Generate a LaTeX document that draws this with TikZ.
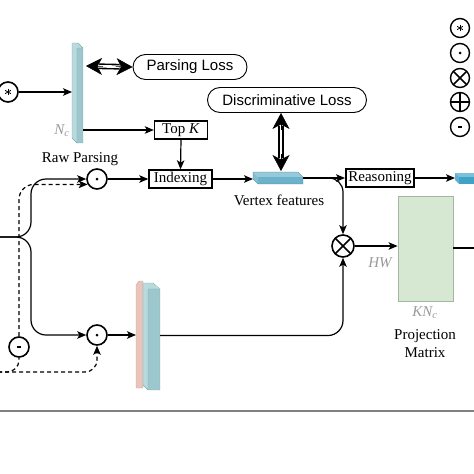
\documentclass[tikz,border=0pt]{standalone}
\usepackage{fontspec}
\setmainfont{Liberation Serif}
\newfontfamily\lsans{Liberation Sans}
\usetikzlibrary{arrows.meta,calc}
\newcommand\fsz{\fontsize{15}{18}\selectfont}
\newcommand\dblarr[2]{%
  \draw[line width=1.6pt, double distance=2.6pt] ($(#1)!13pt!(#2)$) -- ($(#2)!13pt!(#1)$);
  \draw[dhead] ($(#1)!17pt!(#2)$) -- (#1);
  \draw[dhead] ($(#2)!17pt!(#1)$) -- (#2);}
\definecolor{tealF}{HTML}{9CC8CD}
\definecolor{tealS}{HTML}{B8DADD}
\definecolor{tealE}{HTML}{7FAAB0}
\definecolor{vbF}{HTML}{6CB2CA}
\definecolor{vbT}{HTML}{96CADB}
\definecolor{rbF}{HTML}{3FA3C8}
\definecolor{rbT}{HTML}{7CC0DA}
\definecolor{pinkF}{HTML}{E8C4BB}
\definecolor{pinkE}{HTML}{CFA89E}
\definecolor{greenF}{HTML}{D7E8D2}
\definecolor{greenE}{HTML}{A3B8A0}
\definecolor{dimgray}{HTML}{9A9A9A}
\begin{document}
\begin{tikzpicture}[x=1pt,y=-1pt,
 conn/.style={line width=1.2pt, -{Stealth[length=9pt,width=7.5pt,inset=2.2pt]}},
 dconn/.style={conn, dash pattern=on 4pt off 3pt},
 dline/.style={line width=1.2pt, dash pattern=on 4pt off 3pt},
 dhead/.style={line width=0.6pt, -{Stealth[length=16pt,width=17pt,inset=4.5pt]}},
 op/.style={circle, draw, line width=1.6pt, minimum size=20pt, inner sep=0pt, fill=white},
 lg/.style={line width=1.4pt, minimum size=19pt},
 odot/.style={op, path picture={\fill[black] (path picture bounding box.center) circle (1.5pt);}},
 ostar/.style={op, path picture={\foreach \a in {90,30,-30}{\draw[black, line width=0.8pt] (path picture bounding box.center) +(\a:3.3pt) -- +(\a+180:3.3pt);}}},
 otimes/.style={op, path picture={\draw[black, line width=1.5pt] (path picture bounding box.center) +(-12pt,-12pt) -- +(12pt,12pt) +(-12pt,12pt) -- +(12pt,-12pt);}},
 oplus/.style={op, path picture={\draw[black, line width=1.5pt] (path picture bounding box.center) +(-12pt,0) -- +(12pt,0) +(0,-12pt) -- +(0,12pt);}},
 ominus/.style={op, path picture={\draw[black, line width=1.2pt] (path picture bounding box.center) +(-2.3pt,0) -- +(2.3pt,0);}},
 txtbox/.style={draw, line width=1.4pt, inner sep=0pt, minimum height=18pt, font=\fsz},
 loss/.style={draw, rounded corners=12.5pt, line width=0.9pt, minimum height=25pt, inner sep=0pt, font=\lsans\fsz},
 lbl/.style={font=\fsz, inner sep=0pt},
 dim/.style={text=dimgray, font=\fsz\itshape, inner sep=0pt},
 ghost/.style={inner sep=0pt, outer sep=0pt}
]
\useasboundingbox (0,0) rectangle (474,474);

% ---------- bars (shapes) ----------
% raw parsing bar
\fill[tealS] (72,43) -- (78,43) -- (83,48) -- (77,48) -- cycle;
\fill[tealS] (72,43) -- (77,48) -- (77,143) -- (72,138) -- cycle;
\fill[tealF] (77,48) rectangle (83,143);
\draw[tealE, line width=0.4pt] (72,43) -- (78,43) -- (83,48) -- (83,143) -- (77,143) -- (72,138) -- cycle (77,48) -- (83,48) (77,48) -- (77,143);
\node[ghost, minimum width=11pt, minimum height=100pt] (rawbar) at (77.5,93) {};

% vertex feature bar
\fill[vbT] (253,172) -- (298,172) -- (303,177) -- (258,177) -- cycle;
\fill[vbF!85!white] (253,172) -- (258,177) -- (258,184) -- (253,179) -- cycle;
\fill[vbF] (258,177) rectangle (303,184);
\draw[vbF!70!black, line width=0.3pt] (253,172) -- (298,172) -- (303,177) -- (303,184) -- (258,184) -- (253,179) -- cycle;
\node[ghost, minimum width=50pt, minimum height=12pt] (vbar) at (278,178) {};

% right bar
\fill[rbT] (455,173) -- (476,173) -- (476,177) -- (459,177) -- cycle;
\fill[rbF!85!white] (455,173) -- (459,177) -- (459,184) -- (455,180) -- cycle;
\fill[rbF] (459,177) rectangle (476,184);
\node[ghost, minimum width=21pt, minimum height=11pt, anchor=west] (rbar) at (455,178) {};

% pink / teal slab
\fill[pinkF] (136,285) -- (139,281) -- (143,281) -- (143,388) -- (136,388) -- cycle;
\draw[pinkE, line width=0.4pt] (136,285) -- (139,281) -- (143,281) -- (143,388) -- (136,388) -- cycle;
\fill[tealS] (143,283) -- (153,283) -- (159,289) -- (148,289) -- cycle;
\fill[tealS] (143,283) -- (148,289) -- (148,390) -- (143,385) -- cycle;
\fill[tealF] (148,289) rectangle (160,390);
\draw[tealE, line width=0.4pt] (143,283) -- (153,283) -- (160,289) -- (160,390) -- (148,390) -- (143,385) -- cycle (148,289) -- (160,289) (148,289) -- (148,390);
\node[ghost, minimum width=24pt, minimum height=109pt] (slab) at (148,335.5) {};

% projection matrix
\node[draw=greenE, fill=greenF, line width=0.8pt, minimum width=55pt, minimum height=105pt, inner sep=0pt] (proj) at (425.5,248.5) {};

% ---------- operators ----------
\node[ostar] (starL) at (8,92) {};
\node[odot] (dotU) at (97,179) {};
\node[odot] (dotL) at (97,335) {};
\node[ominus] (minusL) at (19,347) {};
\node[otimes, minimum size=22pt] (tim) at (343,246) {};

% legend
\node[ostar, lg] (lg1) at (460,28) {};
\node[odot, lg] (lg2) at (460,53) {};
\node[otimes, lg] (lg3) at (460,78) {};
\node[oplus, lg] (lg4) at (460,102) {};
\node[ominus, lg] (lg5) at (460,127) {};

% ---------- boxes ----------
\node[loss, minimum width=114pt] (ploss) at (190,67) {Parsing Loss};
\node[loss, minimum width=159pt] (dloss) at (287,100) {Discriminative Loss};
\node[txtbox, minimum width=53pt] (topk) at (181,130) {Top \textit{K}};
\node[txtbox, minimum width=63pt] (indexing) at (180.5,179) {Indexing};
\node[txtbox, minimum width=68pt, line width=2pt] (reasoning) at (380,178) {Reasoning};

% ---------- labels ----------
\node[lbl] (rawlbl) at (80,159) {Raw Parsing};
\node[dim] (nc) at (62,131) {N\textsubscript{c}};
\node[lbl] (vlbl) at (279,200) {Vertex features};
\node[dim] (hw) at (380,263) {HW};
\node[dim] (knc) at (425,313) {KN\textsubscript{c}};
\node[lbl, align=center] (plbl) at (425,344) {Projection\\Matrix};

% ---------- connectors ----------
\draw[conn] (starL.east) -- (starL.east -| rawbar.west);
\draw[conn] (topk.west -| rawbar.east) -- (topk.west);
\draw[conn] (topk.south) -- (indexing.north);
\draw[conn] (dotU.east) -- (dotU.east -| indexing.west);
\draw[conn] (indexing.east) -- (indexing.east -| vbar.west);
\draw[conn] (vbar.east) -- (reasoning.west);
\draw[conn, rounded corners=14pt] (vbar.east) -- (vbar.east -| tim.north) -- (tim.north);
\draw[conn] (reasoning.east) -- (reasoning.east -| rbar.west);
\draw[conn] (dotL.east) -- (dotL.east -| slab.west);
\draw[conn, rounded corners=15pt] (slab.east) -- (slab.east -| tim.south) -- (tim.south);
\draw[conn] (tim.east) -- (tim.east -| proj.west);
\coordinate (outR) at (476,248);
\draw[line width=1.2pt] (proj.east |- outR) -- (outR);

% input fork
\coordinate (inL) at (-2,237);
\coordinate (fork) at (31,237);
\draw[conn, rounded corners=15pt] (inL) -- (fork) -- (fork |- dotU.west) -- (dotU.west);
\draw[conn, rounded corners=15pt] (inL) -- (fork) -- (fork |- dotL.west) -- (dotL.west);

% dashed paths
\coordinate (dinL) at (-2,372);
\draw[dconn, rounded corners=15pt] (minusL.north) -- (minusL.north |- dotU.210) -- (dotU.210);
\draw[dconn, rounded corners=12pt] (dinL) -- (dinL -| dotL.south) -- (dotL.south);
\draw[dline, rounded corners=12pt] (dinL) -- (dinL -| minusL.south) -- (minusL.south);

% double arrows
\coordinate (pa) at ($(rawbar.east |- ploss.west)+(3,-1)$);
\dblarr{pa}{ploss.west}
\coordinate (va) at ($(vbar.north)+(3,-1)$);
\coordinate (vb) at (dloss.south -| va);
\dblarr{vb}{va}

% bottom rule
\draw[line width=2pt, gray] (0,411) -- (474,411);
\end{tikzpicture}
\end{document}
